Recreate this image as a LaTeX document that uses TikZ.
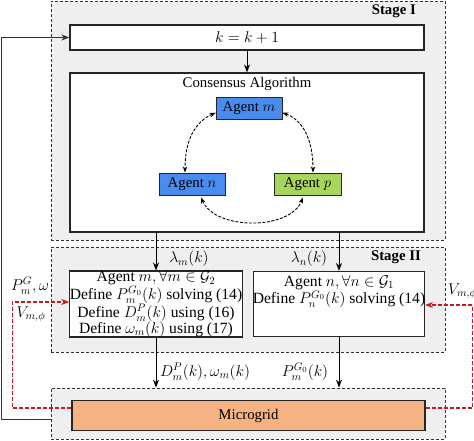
\RequirePackage{fix-cm}
\documentclass[tikz,border=0pt]{standalone}
\usepackage{fontspec}
\setmainfont{Liberation Serif}
\usetikzlibrary{arrows.meta,calc}
\definecolor{stagegray}{HTML}{EFEFEF}
\definecolor{agblue}{HTML}{4A8CEE}
\definecolor{aggreen}{HTML}{A8D65C}
\definecolor{mgorange}{HTML}{F5B383}
\definecolor{fbred}{HTML}{C41A20}
\begin{document}
\begin{tikzpicture}[x=1pt,y=-1pt,
  font=\fontsize{14.8}{15.5}\selectfont,
  mtext/.style={font=\fontsize{15.6}{15.6}\selectfont},
  stagebox/.style={draw=black!80, dash pattern=on 3pt off 2pt, fill=stagegray, line width=0.8pt, minimum width=394pt, inner sep=0pt},
  procbox/.style={draw=black!85, line width=1.2pt, fill=white, inner sep=0pt},
  agentbox/.style={draw=black!85, line width=0.9pt, minimum width=66pt, minimum height=22pt, inner sep=0pt},
  flow/.style={-{Stealth[length=8pt,width=6pt]}, line width=1pt},
  link/.style={{Stealth[length=6pt,width=4.5pt]}-{Stealth[length=6pt,width=4.5pt]}, dash pattern=on 3pt off 1.5pt, line width=0.9pt},
  fbline/.style={-{Stealth[length=8pt,width=6pt]}, draw=fbred, dash pattern=on 4pt off 2pt, line width=1.1pt},
  backline/.style={-{Stealth[length=8pt,width=6pt]}, draw=black!80, line width=1.2pt},
  stagelabel/.style={font=\fontsize{14.8}{15.5}\selectfont\bfseries, anchor=east, inner sep=0pt}
]
\useasboundingbox (0,0) rectangle (474,440);

% stage boxes
\node[stagebox, minimum height=239pt] (s1) at (248,120.5) {};
\node[stagebox, minimum height=105pt] (s2) at (248,299.5) {};
\node[stagebox, minimum height=51pt] (s3) at (248,413.5) {};
\node[stagelabel] (s1lab) at (416,11) {Stage I};
\node[stagelabel] (s2lab) at (421,257) {Stage II};

% stage I
\node[procbox, mtext, minimum width=354pt, minimum height=25pt] (kbox) at (247,37.5) {$k=k+1$};
\node[procbox, minimum width=354pt, minimum height=159pt] (cons) at (247,152.5) {};
\node[inner sep=0pt] (constitle) at (247,84) {Consensus Algorithm};
\node[agentbox, fill=agblue] (agm) at (249,108) {Agent $m$};
\node[agentbox, fill=agblue] (agn) at (192,184) {Agent $n$};
\node[agentbox, fill=aggreen, minimum width=67pt] (agp) at (307.5,184) {Agent $p$};

\draw[link] (agm.188) .. controls (195,122) and (185,140) .. ([xshift=-7pt]agn.north);
\draw[link] (agm.352) .. controls (303,120) and (313,140) .. ([xshift=5.5pt]agp.north);
\draw[link] ([xshift=9pt,yshift=-2pt]agn.south) .. controls +(14,33) and +(-13,33) .. ([xshift=-4.5pt,yshift=-2pt]agp.south);

\draw[flow] (kbox) -- (cons);

% stage II
\node[procbox, mtext, minimum width=172pt, minimum height=65pt, align=center] (agM) at (156,304)
  {Agent $m,\forall m\in\mathcal{G}_2$\\
   Define $P^{G_0}_m(k)$ solving (14)\\
   Define $D^{P}_m(k)$ using (16)\\
   Define $\omega_m(k)$ using (17)};
\node[procbox, minimum width=171pt, minimum height=65pt] (agN) at (339,304) {};
\node[mtext, align=center, inner sep=0pt] (agNtxt) at (339,291.5)
  {Agent $n,\forall n\in\mathcal{G}_1$\\
   Define $P^{G_0}_n(k)$ solving (14)};

\draw[flow] (cons.south -| agM.north) -- (agM.north);
\draw[flow] (cons.south -| agN.north) -- (agN.north);
\node[mtext] (lm) at (189,259) {$\lambda_m(k)$};
\node[mtext] (ln) at (309,259) {$\lambda_n(k)$};

% microgrid
\node[procbox, fill=mgorange, minimum width=353pt, minimum height=30pt] (mg) at (248.5,415.5) {Microgrid};
\draw[flow] (agM.south) -- (agM.south |- s3.north);
\draw[flow] (agN.south) -- (agN.south |- s3.north);
\node[mtext] (ldp) at (205,372) {$D^{P}_m(k),\omega_m(k)$};
\node[mtext] (lpg) at (305,372) {$P^{G_0}_m(k)$};

% feedback
\draw[backline] ($(s3.west)+(0,6)$) -- ++(-49,0) |- (kbox.west);
\draw[fbline] ($(mg.west)+(0,-7.5)$) -- ++(-59,0) |- ([yshift=2pt]agM.west);
\draw[fbline] ($(mg.east)+(0,-7.5)$) -- ++(46.5,0) |- ([yshift=-1pt]agN.east);
\node[mtext, inner sep=0pt] (lpl) at (30,286) {$P^{G}_m,\omega$};
\node[mtext, inner sep=0pt] (lvl) at (31,314) {$V_{m,\phi}$};
\node[mtext, anchor=west, inner sep=0pt] (lvr) at (448,291) {$V_{m,\phi}$};
\end{tikzpicture}
\end{document}
